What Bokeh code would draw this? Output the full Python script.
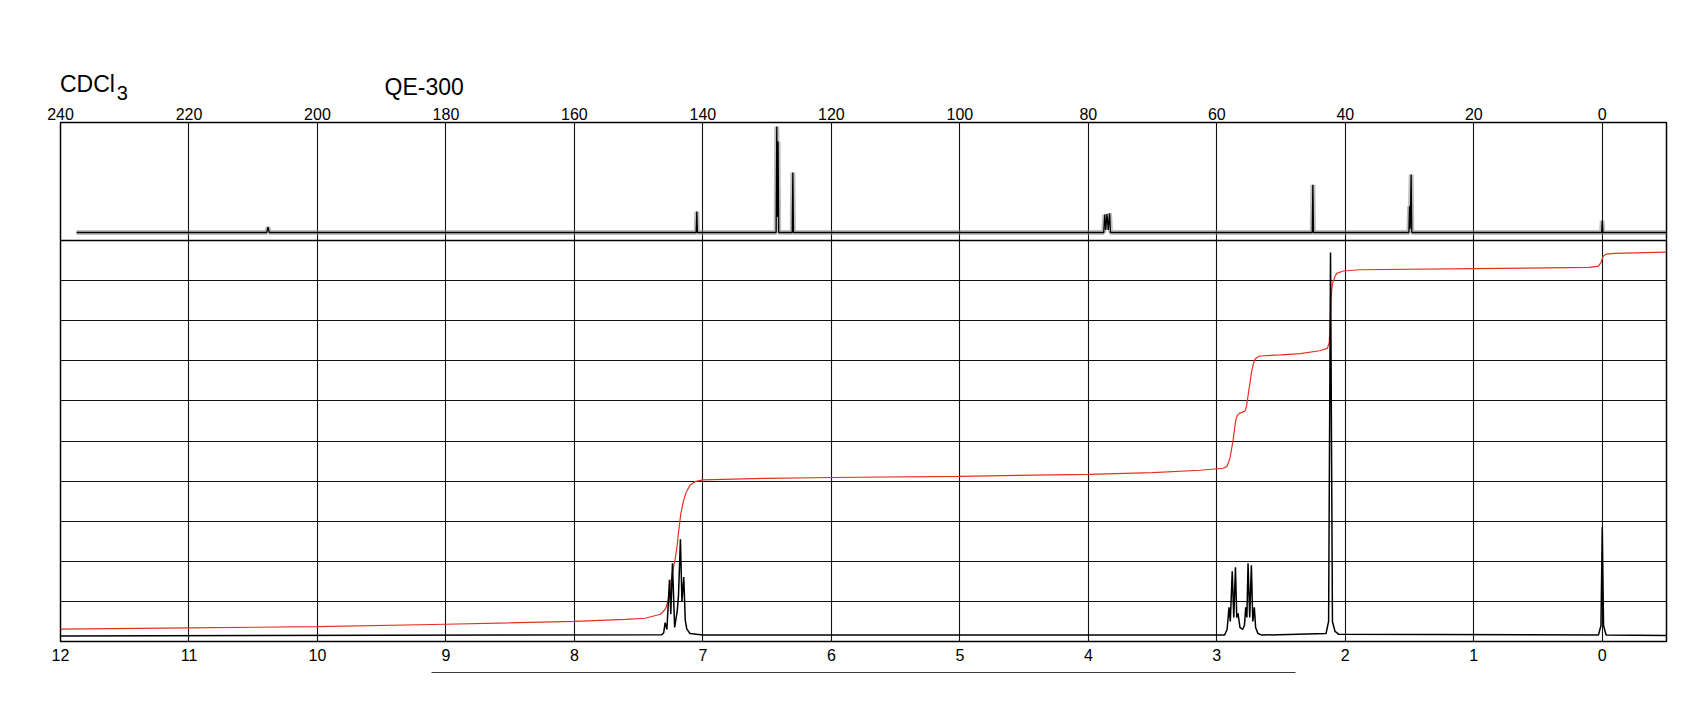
from bokeh.plotting import figure
from bokeh.models import Range1d, LinearAxis, FixedTicker, Grid, Span, Div
from bokeh.layouts import column
from bokeh.embed import file_html
from bokeh.resources import INLINE

# ---------------- data ----------------
h_ticks = [12, 11, 10, 9, 8, 7, 6, 5, 4, 3, 2, 1, 0]
c_ticks = [240, 220, 200, 180, 160, 140, 120, 100, 80, 60, 40, 20, 0]
div_ticks = [1, 2, 3, 4, 5, 6, 7, 8, 9]

# 1H spectrum trace (ppm, height in grid divisions)
h_ppm = [12.0, 7.32, 7.305, 7.294, 7.28, 7.26, 7.25, 7.237, 7.22, 7.2, 7.19, 7.175,
         7.163, 7.149, 7.137, 7.125, 7.1, 7.0,
         2.94, 2.92, 2.905, 2.895, 2.88, 2.868, 2.855, 2.845, 2.835, 2.82, 2.8, 2.785,
         2.775, 2.766, 2.757, 2.744, 2.731, 2.72, 2.708, 2.698, 2.68, 2.65,
         2.15, 2.13, 2.115, 2.1, 2.08, 2.05,
         0.03, 0.01, 0.0, -0.01, -0.03, -0.5]
h_int = [0.14, 0.17, 0.22, 0.47, 0.30, 1.54, 0.68, 1.95, 0.35, 0.75, 1.14, 2.55,
         1.00, 1.61, 0.52, 0.31, 0.20, 0.16,
         0.16, 0.30, 0.85, 0.50, 1.75, 0.60, 1.85, 0.60, 0.70, 0.35, 0.30, 0.40,
         0.85, 0.60, 1.95, 0.60, 1.90, 0.50, 0.85, 0.35, 0.20, 0.16,
         0.20, 0.50, 9.70, 0.50, 0.25, 0.18,
         0.16, 0.40, 2.85, 0.40, 0.16, 0.15]

# integral trace (ppm, height in grid divisions)
integ_ppm = [12.0, 11.0, 10.0, 9.0, 8.0, 7.6, 7.45, 7.33, 7.30, 7.286, 7.27, 7.255,
             7.235, 7.216, 7.2, 7.19, 7.172, 7.152, 7.13, 7.1, 7.06, 7.0, 6.5, 6.0,
             5.0, 4.0, 3.5, 3.13, 2.95, 2.923, 2.91, 2.897, 2.885, 2.872, 2.86, 2.85,
             2.84, 2.825, 2.8, 2.78, 2.77, 2.755, 2.74, 2.728, 2.715, 2.703, 2.685,
             2.664, 2.5, 2.35, 2.2, 2.14, 2.125, 2.118, 2.112, 2.105, 2.098, 2.08,
             2.067, 2.015, 1.886, 1.0, 0.1, 0.03, 0.01, 0.0, -0.01, -0.03, -0.1, -0.5]
integ_val = [0.31, 0.34, 0.37, 0.43, 0.50, 0.55, 0.58, 0.68, 0.78, 0.85, 1.05, 1.39,
             1.75, 2.05, 2.40, 2.72, 3.18, 3.50, 3.72, 3.90, 3.99, 4.03, 4.07, 4.09,
             4.12, 4.17, 4.21, 4.27, 4.32, 4.36, 4.45, 4.59, 4.80, 5.05, 5.35, 5.55,
             5.64, 5.69, 5.72, 5.75, 5.85, 6.17, 6.50, 6.75, 6.93, 7.04, 7.09,
             7.12, 7.15, 7.18, 7.25, 7.31, 7.45, 7.90, 8.50, 8.80, 8.95, 9.10,
             9.18, 9.24, 9.27, 9.30, 9.33, 9.36, 9.45, 9.55, 9.62, 9.66, 9.68, 9.71]

# 13C spectrum trace (ppm, height in % of upper panel)
c_ppm = [237.5, 207.9, 207.7, 207.5, 141.05, 140.95, 140.85, 128.6, 128.5, 128.4,
         128.3, 128.2, 126.1, 126.0, 125.9, 77.6, 77.45, 77.3, 77.1, 76.9, 76.7,
         76.55, 45.15, 45.05, 44.95, 30.1, 30.0, 29.9, 29.75, 29.65, 0.1, 0.0,
         -0.1, -10.0]
c_int = [6.8, 6.8, 11.3, 6.8, 6.8, 24.6, 6.8, 6.8, 96.6, 20.0,
         83.9, 6.8, 6.8, 57.6, 6.8, 6.8, 22.0, 9.0, 22.5, 9.0, 23.0,
         6.8, 6.8, 47.2, 6.8, 6.8, 29.1, 10.0, 55.9, 6.8, 6.8, 16.9,
         6.8, 6.8]

bar_ppm = [9.11, 2.39]

solvent = "CDCl"
solvent_sub = "3"
instrument = "QE-300"

# ---------------- figure ----------------
FONT = "Liberation Sans"
RED = "#e5311f"

top_px, bot_px = 118, 401
h_top = 10 * (top_px + bot_px) / bot_px

p = figure(frame_width=1606, frame_height=top_px + bot_px,
           min_border_left=60, min_border_right=20, min_border_top=21,
           min_border_bottom=10,
           x_range=Range1d(12, -0.5), y_range=Range1d(0, h_top),
           y_axis_location=None, toolbar_location=None,
           output_backend="svg", background_fill_color="white",
           border_fill_color="white")
p.extra_x_ranges = {"c13": Range1d(240, -10)}
p.extra_y_ranges = {"c13": Range1d(-100 * bot_px / top_px, 100)}

p.outline_line_color = "black"
p.outline_line_width = 1.5
p.grid.grid_line_color = None

# axes
ax = p.xaxis[0]
ax.ticker = FixedTicker(ticks=h_ticks)
ax.axis_line_color = None
ax.major_tick_line_color = None
ax.minor_tick_line_color = None
ax.major_tick_out = 0
ax.major_tick_in = 0
ax.major_label_text_font = FONT
ax.major_label_text_font_size = "16px"
ax.major_label_text_color = "black"
ax.major_label_standoff = 7
ax.axis_label = " "
ax.axis_label_text_font_size = "7px"
ax.axis_label_standoff = 0

top_ax = LinearAxis(x_range_name="c13", ticker=FixedTicker(ticks=c_ticks))
top_ax.axis_line_color = None
top_ax.major_tick_line_color = None
top_ax.minor_tick_line_color = None
top_ax.major_tick_out = 0
top_ax.major_tick_in = 0
top_ax.major_label_text_font = FONT
top_ax.major_label_text_font_size = "16px"
top_ax.major_label_text_color = "black"
top_ax.major_label_standoff = 3
p.add_layout(top_ax, "above")

bar_ax = LinearAxis(ticker=FixedTicker(ticks=[]), bounds=(min(bar_ppm), max(bar_ppm)))
bar_ax.axis_line_color = "#3a3a3a"
bar_ax.axis_line_width = 3
bar_ax.major_tick_line_color = None
bar_ax.minor_tick_line_color = None
bar_ax.major_tick_out = 0
bar_ax.major_tick_in = 0
p.add_layout(bar_ax, "below")

# grids
p.add_layout(Grid(dimension=0, ticker=FixedTicker(ticks=h_ticks),
                  grid_line_color="#111111", grid_line_width=1.1))
p.add_layout(Grid(dimension=1, ticker=FixedTicker(ticks=div_ticks),
                  grid_line_color="#111111", grid_line_width=1.1))
p.add_layout(Span(location=10, dimension="width", line_color="black", line_width=1.6))

# 13C spectrum (upper panel)
p.line(c_ppm, c_int, x_range_name="c13", y_range_name="c13",
       line_color="#8a8a8a", line_width=5, line_alpha=0.55)
p.line(c_ppm, c_int, x_range_name="c13", y_range_name="c13",
       line_color="black", line_width=1.3)

# 1H spectrum and integral
p.line(integ_ppm, integ_val, line_color=RED, line_width=1.2)
p.line(h_ppm, h_int, line_color="black", line_width=1.5)

# header texts
header_html = (
    '<div style="position:relative;width:1700px;height:101px;overflow:visible;'
    'font-family:\'Liberation Sans\',Arial,sans-serif;color:black;">'
    '<span style="position:absolute;left:60px;top:72.8px;font-size:23px;'
    'line-height:23px;white-space:nowrap;">' + solvent + '</span>'
    '<span style="position:absolute;left:116.7px;top:83.3px;font-size:20px;'
    'line-height:20px;white-space:nowrap;">' + solvent_sub + '</span>'
    '<span style="position:absolute;left:384.5px;top:76px;font-size:23px;'
    'line-height:23px;white-space:nowrap;">' + instrument + '</span>'
    '</div>'
)
header = Div(text=header_html, width=1700, height=101, margin=0,
             styles={"overflow": "visible"})

layout = column(header, p, spacing=0)
open("out.html", "w").write(file_html(layout, INLINE))
